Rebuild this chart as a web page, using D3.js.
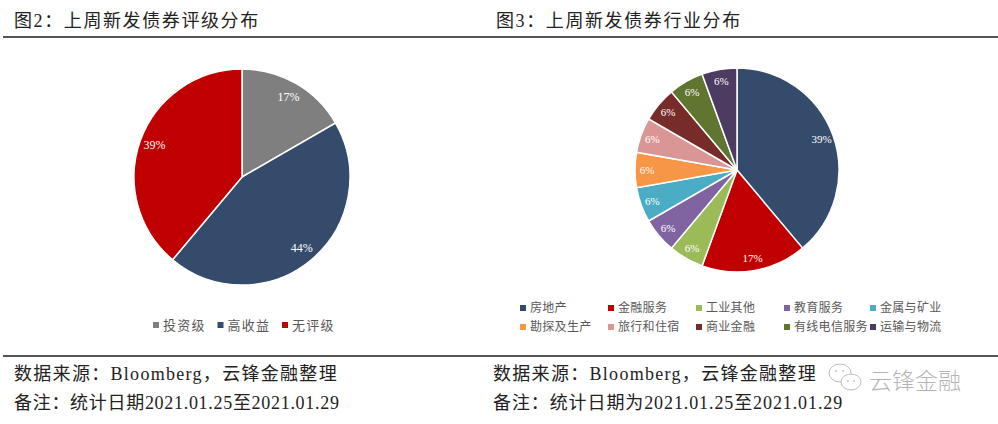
<!doctype html>
<html lang="zh">
<head>
    <meta charset="utf-8" />
    <title>债券分布</title>
    <script src="https://d3js.org/d3.v7.min.js"></script>
    <style>
        body { margin: 0; padding: 0; background: #fff; }
        svg { display: block; }
        .cjk { font-family: "Liberation Serif", "Noto Sans CJK SC", serif; }
    </style>
</head>
<body>
<svg id="chart" width="998" height="424"></svg>
<script>
    // 图2 评级分布 (只数)
    const ratingCats = ['投资级', '高收益', '无评级'];
    const ratingVals = [3, 8, 7];
    const ratingColors = ['#7f7f7f', '#344b6c', '#c00000'];

    // 图3 行业分布 (只数)
    const industryCats = ['房地产', '金融服务', '工业其他', '教育服务', '金属与矿业',
        '勘探及生产', '旅行和住宿', '商业金融', '有线电信服务', '运输与物流'];
    const industryVals = [7, 3, 1, 1, 1, 1, 1, 1, 1, 1];
    const industryColors = ['#344b6c', '#c00000', '#9bbb59', '#8064a2', '#4bacc6',
        '#f79646', '#d99694', '#772c2a', '#5f7530', '#4d3b62'];

    const svg = d3.select('#chart');

    // titres et lignes
    const titles = [
        { x: 14, text: '图2：上周新发债券评级分布' },
        { x: 496, text: '图3：上周新发债券行业分布' }
    ];
    svg.selectAll('text.title').data(titles).enter().append('text')
        .attr('class', 'title cjk')
        .attr('x', d => d.x).attr('y', 27)
        .attr('font-size', 18).attr('fill', '#222')
        .attr('letter-spacing', 1.6)
        .text(d => d.text);

    [37, 356].forEach(y => {
        svg.append('line').attr('x1', 3).attr('x2', 998).attr('y1', y).attr('y2', y)
            .attr('stroke', '#555').attr('stroke-width', 2);
    });

    // notes de source
    const notes = [
        { x: 14, y: 380, ls: 1.3, text: '数据来源：Bloomberg，云锋金融整理' },
        { x: 14, y: 409, ls: 0.7, text: '备注：统计日期2021.01.25至2021.01.29' },
        { x: 493, y: 380, ls: 1.3, text: '数据来源：Bloomberg，云锋金融整理' },
        { x: 493, y: 409, ls: 0.9, text: '备注：统计日期为2021.01.25至2021.01.29' }
    ];
    svg.selectAll('text.note').data(notes).enter().append('text')
        .attr('class', 'note cjk')
        .attr('x', d => d.x).attr('y', d => d.y)
        .attr('font-size', 18).attr('fill', '#222')
        .attr('letter-spacing', d => d.ls)
        .text(d => d.text);

    // fonction pour dessiner un camembert
    function drawPie(cx, cy, r, vals, colors, labelR, fontSize) {
        const total = d3.sum(vals);
        const pie = d3.pie().sort(null).value(d => d)(vals);
        const arc = d3.arc().innerRadius(0).outerRadius(r);
        const labelArc = d3.arc().innerRadius(labelR).outerRadius(labelR);
        const g = svg.append('g').attr('transform', `translate(${cx},${cy})`);
        g.selectAll('path').data(pie).enter().append('path')
            .attr('d', arc)
            .attr('fill', (d, i) => colors[i])
            .attr('stroke', '#fff').attr('stroke-width', 1.5);
        g.selectAll('text').data(pie).enter().append('text')
            .attr('transform', d => `translate(${labelArc.centroid(d)})`)
            .attr('text-anchor', 'middle').attr('dy', '0.35em')
            .attr('font-family', 'Liberation Serif, serif')
            .attr('font-size', fontSize).attr('fill', '#fff')
            .text(d => Math.round(d.value / total * 100) + '%');
    }

    drawPie(242, 177, 108, ratingVals, ratingColors, 93, 12);
    drawPie(737, 170, 102, industryVals, industryColors, 90, 11);

    // légendes
    function drawLegend(items, colors, pos, fs, ls) {
        const g = svg.append('g');
        items.forEach((name, i) => {
            const p = pos(i);
            g.append('rect').attr('x', p[0] - 3).attr('y', p[1] - 3)
                .attr('width', 6).attr('height', 6).attr('fill', colors[i]);
            g.append('text').attr('class', 'cjk')
                .attr('x', p[0] + 7).attr('y', p[1]).attr('dy', '0.35em')
                .attr('font-size', fs).attr('fill', '#595959')
                .attr('letter-spacing', ls)
                .text(name);
        });
    }
    drawLegend(ratingCats, ratingColors, i => [156 + i * 64.5, 325], 13, 1.3);
    const colX = [523, 611, 699, 787, 873];
    drawLegend(industryCats, industryColors, i => [colX[i % 5], i < 5 ? 308 : 327], 12, 0.3);

    // filigrane
    const wm = svg.append('g').attr('opacity', 0.55);
    wm.append('ellipse').attr('cx', 840).attr('cy', 373).attr('rx', 11).attr('ry', 9)
        .attr('fill', '#fff').attr('stroke', '#888').attr('stroke-width', 1);
    wm.append('ellipse').attr('cx', 851).attr('cy', 382).attr('rx', 10).attr('ry', 8)
        .attr('fill', '#fff').attr('stroke', '#888').attr('stroke-width', 1);
    [[836, 371], [843, 371], [848, 381], [854, 381]].forEach(p => {
        wm.append('circle').attr('cx', p[0]).attr('cy', p[1]).attr('r', 0.9).attr('fill', '#888');
    });
    wm.append('text').attr('x', 869).attr('y', 389)
        .attr('font-family', 'Noto Sans CJK SC, sans-serif')
        .attr('font-size', 23).attr('font-weight', 300).attr('fill', '#777')
        .text('云锋金融');
</script>
</body>
</html>
